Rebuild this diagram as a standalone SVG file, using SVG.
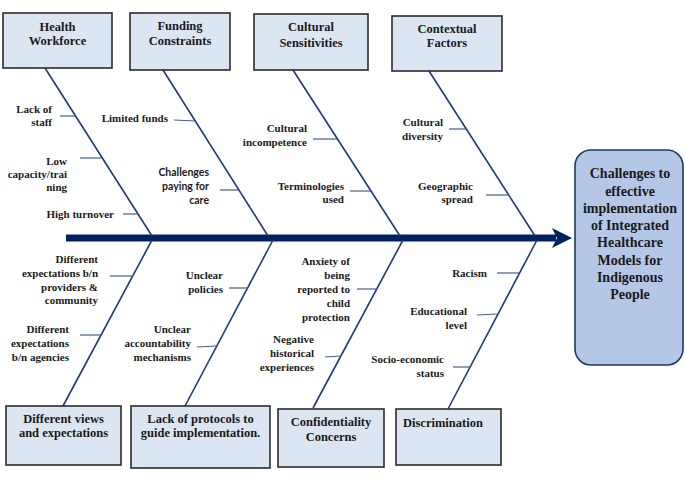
<svg xmlns="http://www.w3.org/2000/svg" width="685" height="487" viewBox="0 0 685 487">
<style>
.box{fill:#dce6f2;stroke:#2b2b2b;stroke-width:1.6}
.head{fill:#b4c7e7;stroke:#1f3864;stroke-width:1.6}
.bone{stroke:#1f3a7a;stroke-width:1.6;fill:none}
.tick{stroke:#44608f;stroke-width:1.2;fill:none}
.t{font-family:"Liberation Serif","Times New Roman",serif;font-weight:bold;font-size:11px;fill:#1a1a1a}
.r{text-anchor:end}
.bt{font-family:"Liberation Serif","Times New Roman",serif;font-weight:bold;font-size:12.5px;fill:#1a1a1a;text-anchor:middle}
.ht{font-family:"Liberation Serif","Times New Roman",serif;font-weight:bold;font-size:14px;fill:#1a1a1a;text-anchor:middle}
.c{font-family:Lato,"Liberation Sans",sans-serif;font-weight:bold;font-size:10.5px;fill:#1a1a1a;text-anchor:end}
</style>
<rect width="685" height="487" fill="#ffffff"/>

<g id="connectors">
  <line x1="66" y1="238" x2="556" y2="238" stroke="#002060" stroke-width="7"/>
  <polygon points="552,228 572,238 552,248 557,238" fill="#002060"/>
  <line class="bone" x1="45" y1="68" x2="152" y2="236"/>
  <line class="bone" x1="163" y1="70" x2="268" y2="236"/>
  <line class="bone" x1="293" y1="70" x2="400" y2="236"/>
  <line class="bone" x1="429" y1="71" x2="535" y2="236"/>
  <line class="bone" x1="152" y1="240" x2="63" y2="406"/>
  <line class="bone" x1="273" y1="240" x2="185" y2="406"/>
  <line class="bone" x1="403" y1="240" x2="313" y2="408"/>
  <line class="bone" x1="537" y1="240" x2="448" y2="409"/>
  <line class="tick" x1="60" y1="116" x2="75" y2="116"/>
  <line class="tick" x1="80" y1="158" x2="102" y2="158"/>
  <line class="tick" x1="123" y1="214" x2="138" y2="214"/>
  <line class="tick" x1="174" y1="120" x2="195" y2="121"/>
  <line class="tick" x1="220" y1="190" x2="239" y2="190"/>
  <line class="tick" x1="313" y1="139" x2="337" y2="139"/>
  <line class="tick" x1="350" y1="191" x2="371" y2="191"/>
  <line class="tick" x1="449" y1="129" x2="466" y2="129"/>
  <line class="tick" x1="486" y1="195" x2="509" y2="195"/>
  <line class="tick" x1="110" y1="276" x2="133" y2="276"/>
  <line class="tick" x1="80" y1="335" x2="101" y2="335"/>
  <line class="tick" x1="229" y1="288" x2="248" y2="288"/>
  <line class="tick" x1="197" y1="347" x2="216" y2="346"/>
  <line class="tick" x1="357" y1="289" x2="377" y2="289"/>
  <line class="tick" x1="325" y1="357" x2="341" y2="356"/>
  <line class="tick" x1="497" y1="273" x2="519" y2="273"/>
  <line class="tick" x1="477" y1="315" x2="497" y2="314"/>
  <line class="tick" x1="453" y1="367" x2="470" y2="367"/>
</g>

<g id="health-workforce">
  <rect class="box" x="3" y="13" width="109" height="55"/>
  <text class="bt" x="57.5" y="31">Health</text>
  <text class="bt" x="57.5" y="45">Workforce</text>
</g>
<g id="funding-constraints">
  <rect class="box" x="130" y="13" width="100" height="57"/>
  <text class="bt" x="180" y="30">Funding</text>
  <text class="bt" x="180" y="45">Constraints</text>
</g>
<g id="cultural-sensitivities">
  <rect class="box" x="254" y="14" width="114" height="56"/>
  <text class="bt" x="311" y="31">Cultural</text>
  <text class="bt" x="311" y="47">Sensitivities</text>
</g>
<g id="contextual-factors">
  <rect class="box" x="392" y="16" width="110" height="55"/>
  <text class="bt" x="447" y="33">Contextual</text>
  <text class="bt" x="447" y="47">Factors</text>
</g>
<g id="different-views">
  <rect class="box" x="6" y="406" width="115" height="59"/>
  <text class="bt" x="63.5" y="423">Different views</text>
  <text class="bt" x="63.5" y="437">and expectations</text>
</g>
<g id="lack-of-protocols">
  <rect class="box" x="131" y="406" width="139" height="62"/>
  <text class="bt" x="200.5" y="423">Lack of protocols to</text>
  <text class="bt" x="200.5" y="437">guide implementation.</text>
</g>
<g id="confidentiality">
  <rect class="box" x="278" y="409" width="106" height="58"/>
  <text class="bt" x="331" y="426">Confidentiality</text>
  <text class="bt" x="331" y="441">Concerns</text>
</g>
<g id="discrimination">
  <rect class="box" x="396" y="409" width="105" height="56"/>
  <text class="bt" x="403" y="427" style="text-anchor:start">Discrimination</text>
</g>
<g id="outcome">
  <rect class="head" x="575" y="150" width="108" height="215" rx="16" ry="16"/>
  <text class="ht" x="630" y="178">Challenges to</text>
  <text class="ht" x="630" y="196">effective</text>
  <text class="ht" x="630" y="213">implementation</text>
  <text class="ht" x="630" y="230">of Integrated</text>
  <text class="ht" x="630" y="247">Healthcare</text>
  <text class="ht" x="630" y="265">Models for</text>
  <text class="ht" x="630" y="282">Indigenous</text>
  <text class="ht" x="630" y="299">People</text>
</g>

<g id="cause-labels">
  <text class="t r" x="52" y="113">Lack of</text>
  <text class="t r" x="52" y="126">staff</text>
  <text class="t r" x="67" y="165">Low</text>
  <text class="t r" x="67" y="178">capacity/trai</text>
  <text class="t r" x="67" y="191">ning</text>
  <text class="t r" x="114" y="218">High turnover</text>
  <text class="t r" x="168" y="122">Limited funds</text>
  <text class="c" x="209" y="176">Challenges</text>
  <text class="c" x="209" y="190">paying for</text>
  <text class="c" x="209" y="204">care</text>
  <text class="t r" x="307" y="132">Cultural</text>
  <text class="t r" x="307" y="146">incompetence</text>
  <text class="t r" x="344" y="190">Terminologies</text>
  <text class="t r" x="344" y="203">used</text>
  <text class="t r" x="443" y="126">Cultural</text>
  <text class="t r" x="443" y="140">diversity</text>
  <text class="t r" x="473" y="190">Geographic</text>
  <text class="t r" x="473" y="203">spread</text>
  <text class="t r" x="98" y="263">Different</text>
  <text class="t r" x="98" y="277">expectations b/n</text>
  <text class="t r" x="98" y="291">providers &amp;</text>
  <text class="t r" x="98" y="304">community</text>
  <text class="t r" x="69" y="333">Different</text>
  <text class="t r" x="69" y="347">expectations</text>
  <text class="t r" x="69" y="361">b/n agencies</text>
  <text class="t r" x="223" y="279">Unclear</text>
  <text class="t r" x="223" y="293">policies</text>
  <text class="t r" x="191" y="333">Unclear</text>
  <text class="t r" x="191" y="347">accountability</text>
  <text class="t r" x="191" y="361">mechanisms</text>
  <text class="t r" x="350" y="265">Anxiety of</text>
  <text class="t r" x="350" y="279">being</text>
  <text class="t r" x="350" y="293">reported to</text>
  <text class="t r" x="350" y="307">child</text>
  <text class="t r" x="350" y="321">protection</text>
  <text class="t r" x="314" y="343">Negative</text>
  <text class="t r" x="314" y="357">historical</text>
  <text class="t r" x="314" y="371">experiences</text>
  <text class="t r" x="487" y="277">Racism</text>
  <text class="t r" x="467" y="315">Educational</text>
  <text class="t r" x="467" y="329">level</text>
  <text class="t r" x="444" y="363">Socio-economic</text>
  <text class="t r" x="444" y="377">status</text>
</g>
</svg>
